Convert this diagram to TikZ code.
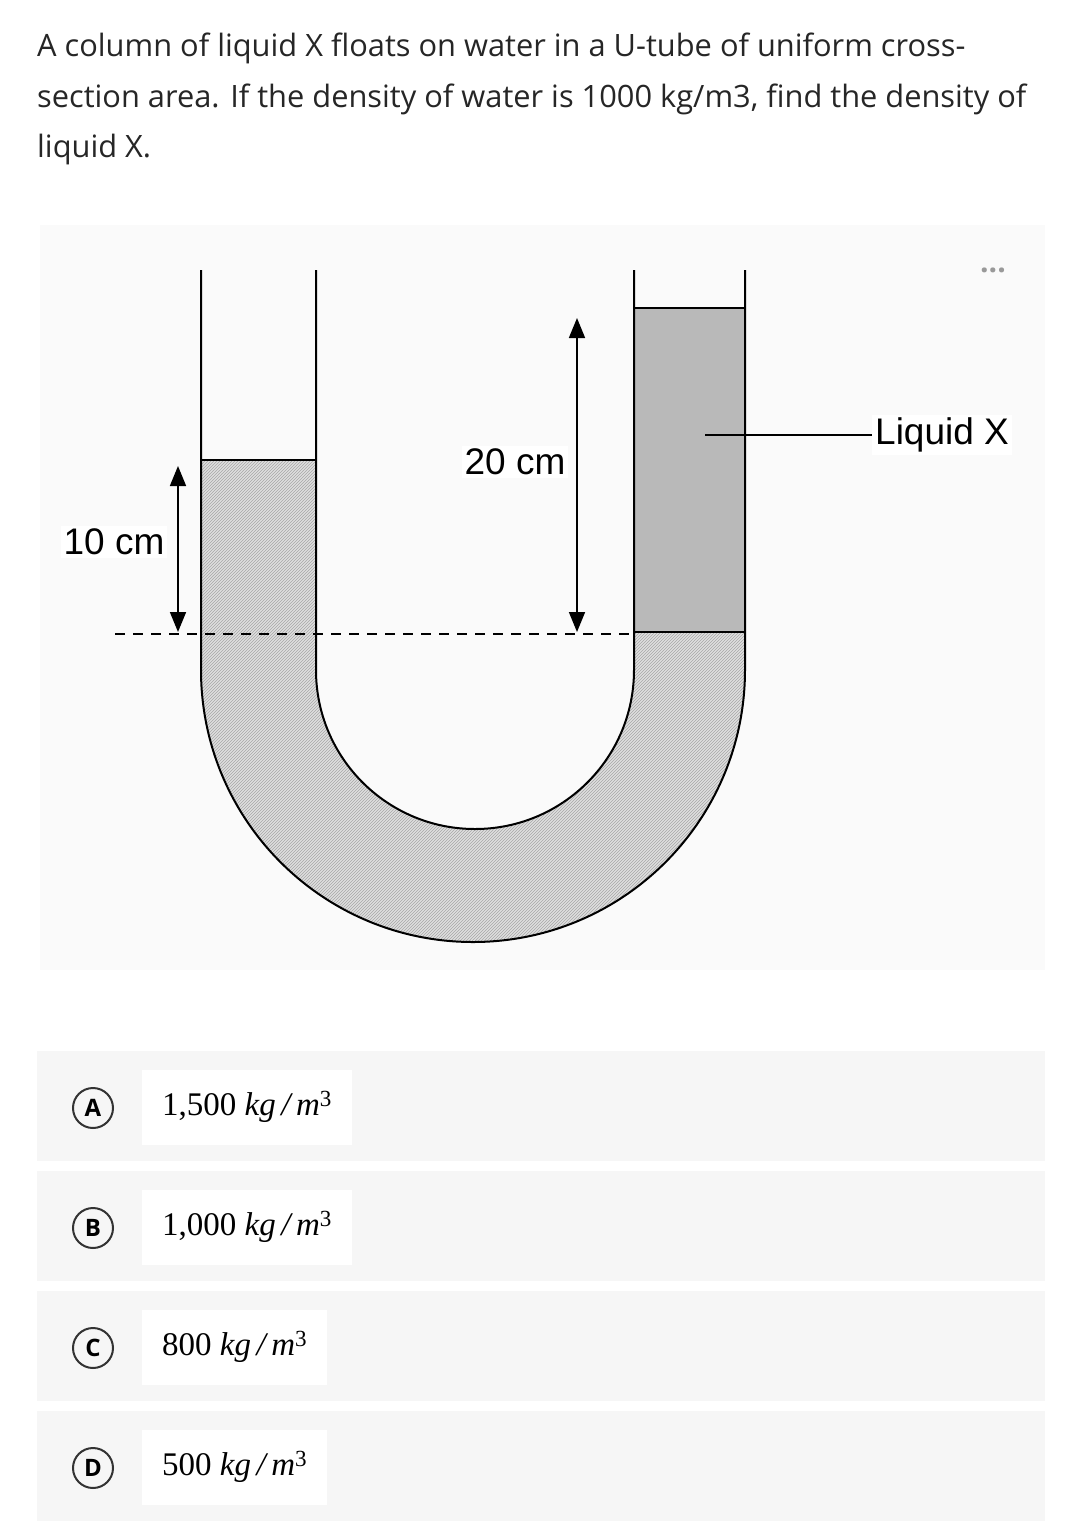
\documentclass[tikz,border=0pt]{standalone}
\usepackage{fontspec}
\setmainfont{Open Sans}
\newfontfamily\lab{Liberation Sans}
\newfontfamily\ans{Liberation Serif}
\usetikzlibrary{patterns,arrows.meta}
\begin{document}
\begin{tikzpicture}[x=1pt,y=-1pt,
  qtext/.style={anchor=west,font=\fontsize{30.8}{34}\selectfont,text=black!85,inner sep=0},
  optbox/.style={fill=gray!7,draw=none},
  letter/.style={circle,draw=black!80,line width=2pt,minimum size=40pt,inner sep=0,font=\bfseries\fontsize{24}{26}\selectfont},
  ansbox/.style={fill=white,anchor=west,minimum height=75pt,inner xsep=20pt,font=\ans\fontsize{33}{36}\selectfont},
  meas/.style={{Triangle[length=20pt,width=16pt]}-{Triangle[length=20pt,width=16pt]},line width=1.6pt},
  lbl/.style={font=\lab\fontsize{37}{40}\selectfont,fill=white,inner sep=3pt}]
\useasboundingbox (0,0) rectangle (1080,1527);
\fill[white] (0,0) rectangle (1080,1527);
\node[qtext] (q1) at (37,48) {A column of liquid X floats on water in a U-tube of uniform cross-};
\node[qtext] (q2) at (37,99) {section area. If the density of water is 1000 kg/m3, find the density of};
\node[qtext] (q3) at (37,149) {liquid X.};
% diagram background
\fill[gray!4] (40,225) rectangle (1045,970);
% water
\def\waterpath{(201,460) -- (316,460) -- (316,670) arc[start angle=180,end angle=0,radius=159] -- (634,632) -- (745,632) -- (745,670) arc[start angle=0,end angle=180,radius=272] -- cycle}
\fill[gray!25] \waterpath;
\fill[pattern=north east lines,pattern color=gray!70] \waterpath;
% liquid X
\fill[gray!55] (634,308) rectangle (745,632);
% tube walls
\draw[line width=2pt] (201,270) -- (201,670) arc[start angle=180,end angle=0,radius=272] -- (745,270);
\draw[line width=2pt] (316,270) -- (316,670) arc[start angle=180,end angle=0,radius=159] -- (634,270);
\draw[line width=1.5pt] (201,460) -- (316,460);
\draw[line width=1.5pt] (634,308) -- (745,308);
\draw[line width=1.5pt] (634,632) -- (745,632);
\draw[line width=2pt,dash pattern=on 10pt off 8pt] (115,634) -- (634,634);
% arrows
\coordinate (a1) at (178,466); \coordinate (a2) at (178,632);
\draw[meas] (a1) -- (a2);
\coordinate (b1) at (577,318); \coordinate (b2) at (577,632);
\draw[meas] (b1) -- (b2);
\node[lbl] (l10) at (114,542) {10 cm};
\node[lbl] (l20) at (515,462) {20 cm};
\coordinate (lx) at (705,435);
\node[lbl,anchor=west] (lliq) at (872,435) {Liquid X};
\draw[line width=1.3pt] (lx) -- (lliq.west);
\node[font=\bfseries\fontsize{30}{30}\selectfont,text=gray!80] (dots) at (993,270) {...};
% options
\foreach \y/\L/\t in {1106/A/{1,500},1226/B/{1,000},1346/C/{800},1466/D/{500}}{
  \fill[optbox] (37,\y-55) rectangle (1045,\y+55);
  \node[letter] (o\L) at (93,\y+2) {\L};
  \node[ansbox] (t\L) at (142,\y+1) {\t\ \textit{kg\,/\,m}\textsuperscript{3}};
}
\end{tikzpicture}
\end{document}
